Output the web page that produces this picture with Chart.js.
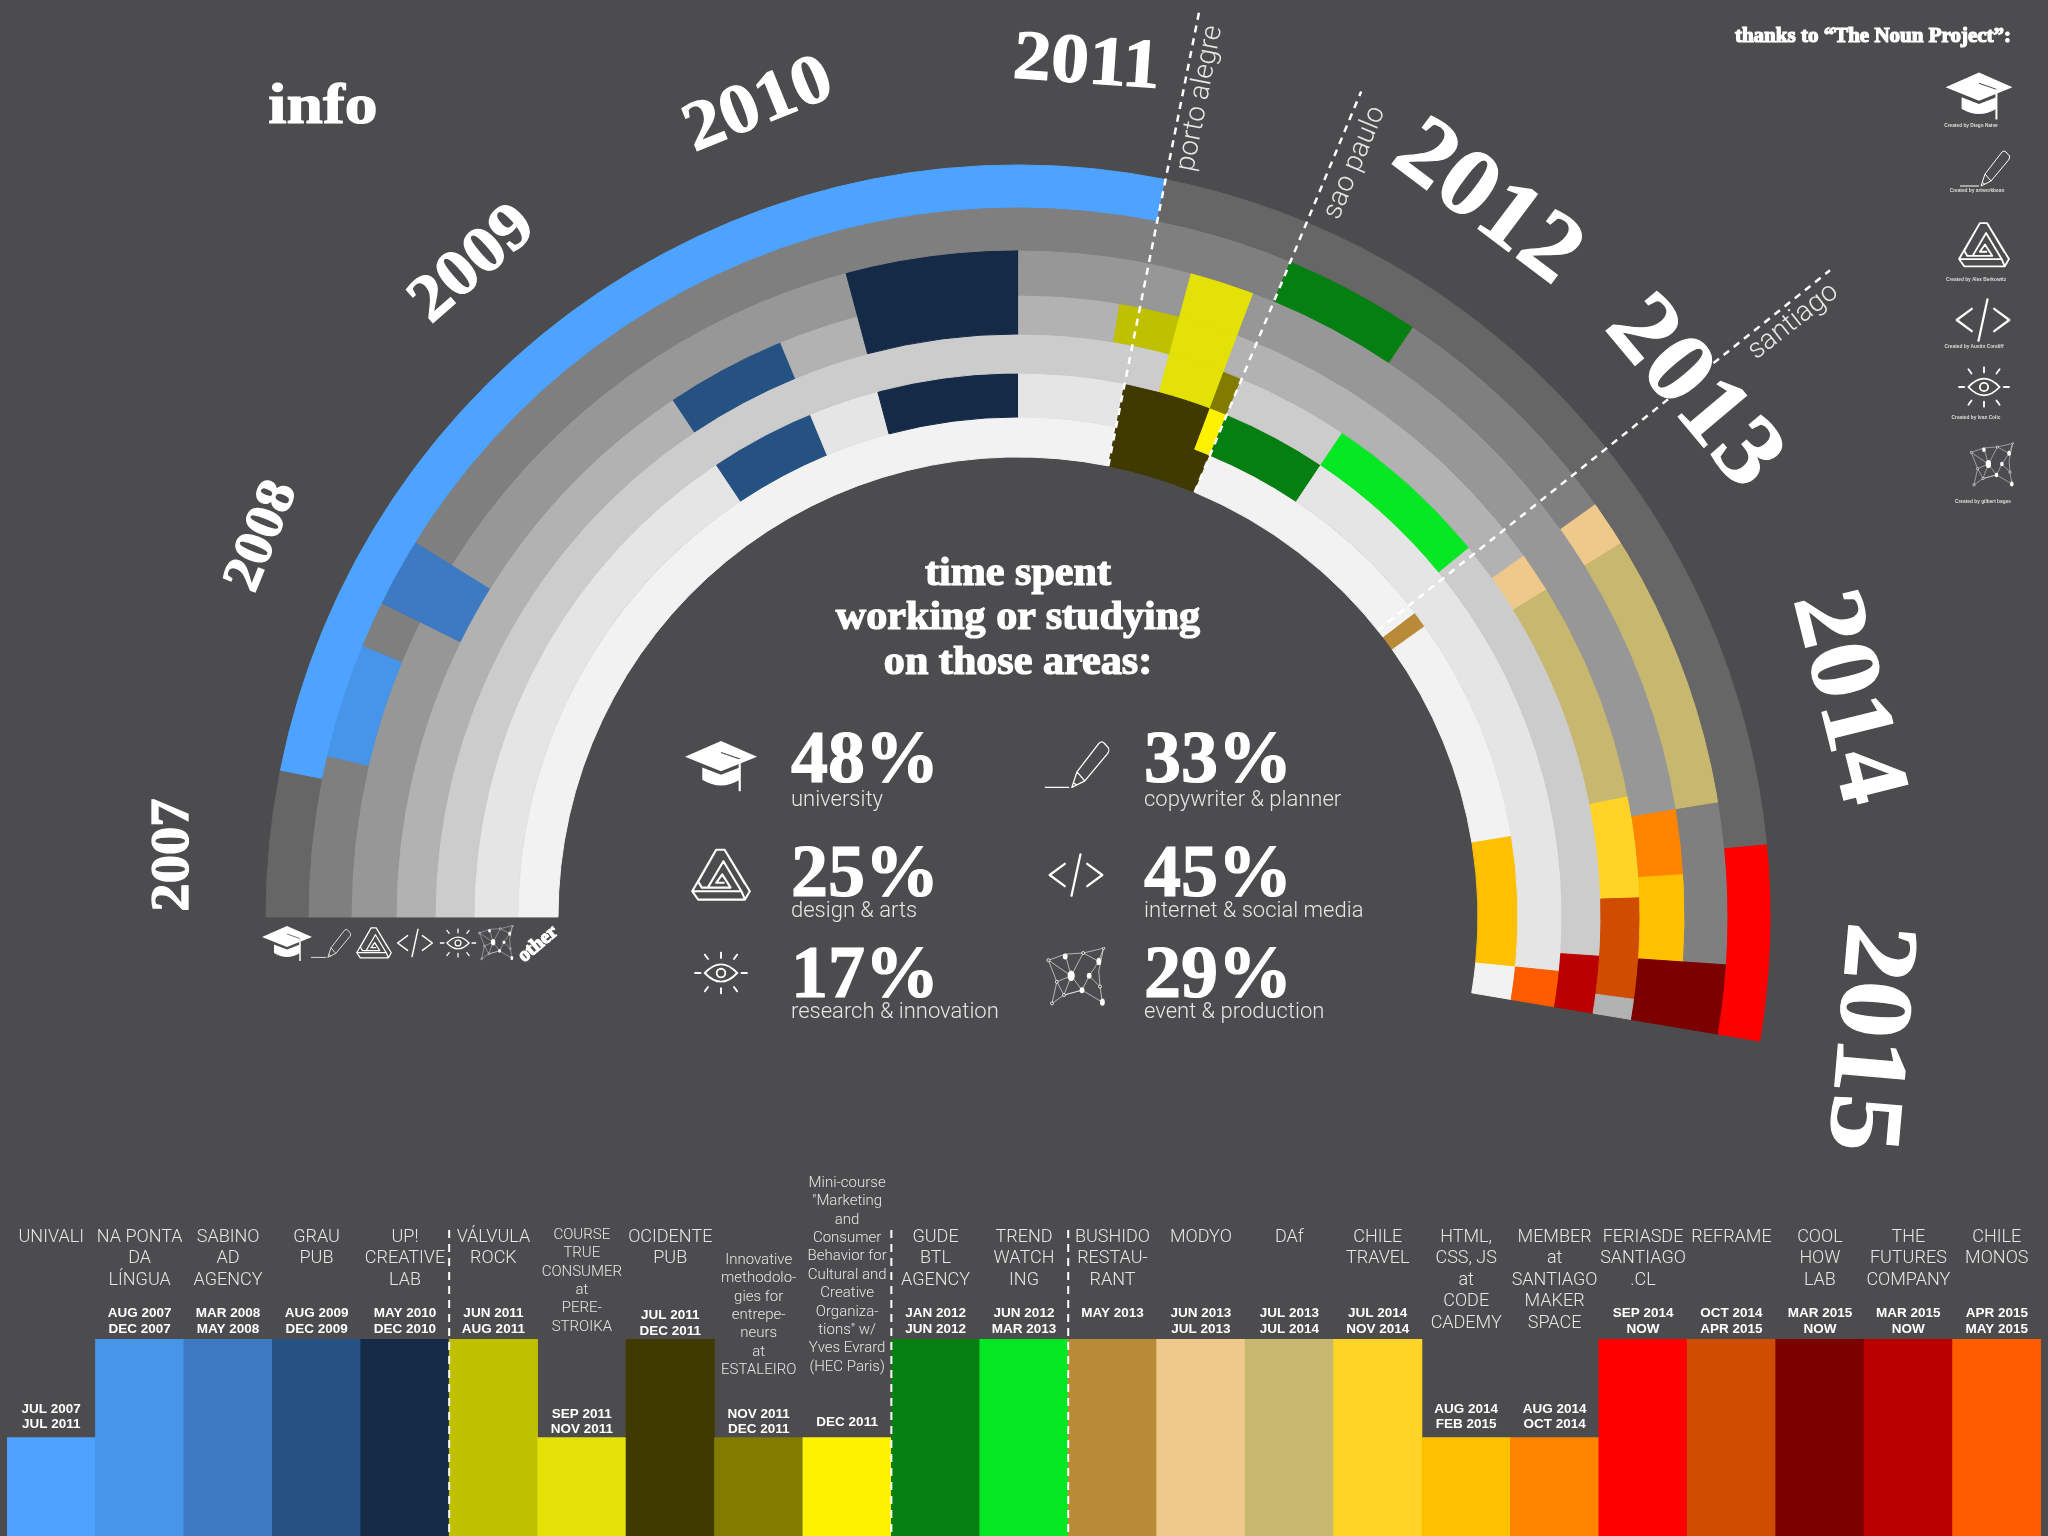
<!DOCTYPE html>
<html lang="en">
<head>
    <meta charset="UTF-8">
    <title>time spent working or studying</title>
    <script src="https://cdn.jsdelivr.net/npm/chart.js"></script>
    <style>
        body { margin: 0; background: #4c4b4d; }
        #page { position: relative; width: 2048px; height: 1536px; overflow: hidden; background: #4c4b4d; }
        canvas, #icons { position: absolute; left: 0; top: 0; }
        .t { position: absolute; white-space: pre; color: #fff; text-align: center; line-height: 1.12; }
        .serif { font-family: "Liberation Serif", serif; font-weight: 700; -webkit-text-stroke: 1.2px #fff; }
        .sans { font-family: Roboto, "Liberation Sans", sans-serif; font-weight: 300; color: #e6e6e6; }
    </style>
</head>
<body>
<div id="page">
    <canvas id="rings" width="2048" height="1536"></canvas>
    <canvas id="bars" width="2048" height="1536"></canvas>
    <svg id="icons" width="2048" height="1536" xmlns="http://www.w3.org/2000/svg">
        <defs>
            <symbol id="cap" viewBox="0 0 100 80">
                <path fill="#fff" d="M0 30 L50 8 L100 30 L50 50Z"/>
                <path fill="#fff" d="M24 45 L50 55 L76 45 V62 Q50 78 24 62Z"/>
                <path fill="none" stroke="#4c4b4d" stroke-width="1.5" d="M50 24 L76 33 V40"/>
                <path fill="none" stroke="#fff" stroke-width="3" d="M76 33 V78"/>
            </symbol>
            <symbol id="pen" viewBox="0 0 100 80">
                <path fill="none" stroke="#fff" stroke-width="2" stroke-linejoin="round" d="M0 76 H38 M42 76 L50 52 L84 8 Q88 4 92 8 L99 16 Q100 20 97 24 L62 66Z M50 52 L62 66 M44 68 L50 73"/>
            </symbol>
            <symbol id="tri" viewBox="0 0 100 90">
                <path fill="none" stroke="#fff" stroke-width="3.5" stroke-linejoin="round" d="M42 3 H56 L98 72 L90 86 H12 L2 72Z M2 72 H84 L54 22 L28 66 M56 3 L90 60 M84 72 L90 86 M42 3 L12 56 M12 56 L18 66 H66 L52 44 L42 58 H56"/>
            </symbol>
            <symbol id="code" viewBox="0 0 100 80">
                <path fill="none" stroke="#fff" stroke-width="4" stroke-linecap="round" stroke-linejoin="round" d="M30 20 L3 40 L30 60 M58 3 L42 77 M70 20 L97 40 L70 60"/>
            </symbol>
            <symbol id="eye" viewBox="0 0 100 80">
                <path fill="none" stroke="#fff" stroke-width="3.5" d="M20 40 Q50 8 80 40 Q50 72 20 40Z"/>
                <circle cx="50" cy="40" r="8" fill="none" stroke="#fff" stroke-width="3.5"/>
                <path fill="none" stroke="#fff" stroke-width="3.5" stroke-linecap="round" d="M50 2 V12 M50 68 V78 M2 40 H12 M88 40 H98 M20 6 L26 14 M80 6 L74 14 M20 74 L26 66 M80 74 L74 66"/>
            </symbol>
            <symbol id="net" viewBox="0 0 100 100">
                <path fill="none" stroke="#fff" stroke-width="1" d="M4 22 L32 12 L62 10 L96 2 L88 40 L90 66 L94 92 L60 72 L30 80 L10 94 L18 58 L4 22 M32 12 L42 48 L62 10 L88 24 L72 48 L90 66 M18 58 L42 48 L30 80 L60 72 L72 48 M4 22 L42 48 L60 72 M18 58 L30 80 M88 24 L96 2"/>
                <g fill="#4c4b4d" stroke="#fff" stroke-width="1.4">
                    <circle cx="4" cy="22" r="2.5"/><circle cx="62" cy="10" r="2.5"/><circle cx="96" cy="2" r="2"/>
                    <circle cx="18" cy="58" r="2.5"/><circle cx="90" cy="66" r="2.5"/><circle cx="30" cy="80" r="2.5"/><circle cx="10" cy="94" r="2.5"/>
                </g>
                <g fill="#fff">
                    <ellipse cx="32" cy="16" rx="4" ry="5"/><ellipse cx="88" cy="24" rx="4" ry="6"/><ellipse cx="42" cy="48" rx="6" ry="9"/>
                    <ellipse cx="72" cy="48" rx="4" ry="5"/><ellipse cx="60" cy="72" rx="4" ry="5"/><ellipse cx="94" cy="92" rx="4" ry="6"/>
                </g>
            </symbol>
        </defs>
    </svg>
</div>
<script>
    // bottom strip: one bar per job / course
    const jobNames = [
        ['UNIVALI'], ['NA PONTA', 'DA', 'LÍNGUA'], ['SABINO', 'AD', 'AGENCY'], ['GRAU', 'PUB'], ['UP!', 'CREATIVE', 'LAB'],
        ['VÁLVULA', 'ROCK'], ['COURSE', 'TRUE', 'CONSUMER', 'at', 'PERE-', 'STROIKA'], ['OCIDENTE', 'PUB'],
        ['Innovative', 'methodolo-', 'gies for', 'entrepe-', 'neurs', 'at', 'ESTALEIRO'],
        ['Mini-course', '"Marketing', 'and', 'Consumer', 'Behavior for', 'Cultural and', 'Creative', 'Organiza-', 'tions" w/', 'Yves Evrard', '(HEC Paris)'],
        ['GUDE', 'BTL', 'AGENCY'], ['TREND', 'WATCH', 'ING'], ['BUSHIDO', 'RESTAU-', 'RANT'], ['MODYO'], ['DAf'], ['CHILE', 'TRAVEL'],
        ['HTML,', 'CSS, JS', 'at', 'CODE', 'CADEMY'], ['MEMBER', 'at', 'SANTIAGO', 'MAKER', 'SPACE'], ['FERIASDE', 'SANTIAGO', '.CL'],
        ['REFRAME'], ['COOL', 'HOW', 'LAB'], ['THE', 'FUTURES', 'COMPANY'], ['CHILE', 'MONOS']
    ];
    const jobDates = [
        ['JUL 2007', 'JUL 2011'], ['AUG 2007', 'DEC 2007'], ['MAR 2008', 'MAY 2008'], ['AUG 2009', 'DEC 2009'], ['MAY 2010', 'DEC 2010'],
        ['JUN 2011', 'AUG 2011'], ['SEP 2011', 'NOV 2011'], ['JUL 2011', 'DEC 2011'], ['NOV 2011', 'DEC 2011'], ['DEC 2011'],
        ['JAN 2012', 'JUN 2012'], ['JUN 2012', 'MAR 2013'], ['MAY 2013', ''], ['JUN 2013', 'JUL 2013'], ['JUL 2013', 'JUL 2014'], ['JUL 2014', 'NOV 2014'],
        ['AUG 2014', 'FEB 2015'], ['AUG 2014', 'OCT 2014'], ['SEP 2014', 'NOW'], ['OCT 2014', 'APR 2015'], ['MAR 2015', 'NOW'], ['MAR 2015', 'NOW'], ['APR 2015', 'MAY 2015']
    ];
    const jobValues = [50, 100, 100, 100, 100, 100, 50, 100, 50, 50, 100, 100, 100, 100, 100, 100, 50, 50, 100, 100, 100, 100, 100];

    const UNIVALI = '#4da3ff', PONTA = '#4695e8', SABINO = '#3e7ac2', GRAU = '#255282', UP = '#142a47';
    const VALVULA = '#bfc000', COURSE = '#e3e106', OCIDENTE = '#403a00', INNOV = '#817c00', MINI = '#fff200';
    const GUDE = '#067f12', TREND = '#04e824', BUSHIDO = '#b98a37', MODYO = '#efc98c', DAF = '#c8b86f', TRAVEL = '#ffd426';
    const HTMLC = '#ffc000', MEMBER = '#ff8500', FERIAS = '#ff0000', REFRAME = '#d04c00', COOL = '#7d0000', FUTURES = '#ba0000', MONOS = '#ff5c00';
    const jobColors = [UNIVALI, PONTA, SABINO, GRAU, UP, VALVULA, COURSE, OCIDENTE, INNOV, MINI, GUDE, TREND, BUSHIDO, MODYO, DAF, TRAVEL, HTMLC, MEMBER, FERIAS, REFRAME, COOL, FUTURES, MONOS];

    // half ring: months per segment from JAN 2007, outermost ring first
    const uniMonths = [6, 48, 39, 8];
    const uniColors = ['#666666', UNIVALI, '#666666', FERIAS];
    const copyMonths = [7, 5, 2, 3, 43, 6, 11, 2, 12, 7, 3];
    const copyColors = ['#7f7f7f', PONTA, '#7f7f7f', SABINO, '#7f7f7f', GUDE, '#7f7f7f', MODYO, DAF, '#7f7f7f', COOL];
    const designMonths = [14, 3, 23, 8, 8, 3, 32, 3, 4, 3];
    const designColors = ['#979797', SABINO, '#979797', UP, '#979797', COURSE, '#979797', MEMBER, HTMLC, COOL];
    const webMonths = [30, 6, 4, 8, 5, 3, 3, 18, 2, 11, 5, 5, 1];
    const webColors = ['#b2b2b2', GRAU, '#b2b2b2', UP, '#b2b2b2', VALVULA, COURSE, '#b2b2b2', MODYO, DAF, TRAVEL, REFRAME, '#b2b2b2'];
    const researchMonths = [56, 3, 1, 6, 9, 23, 3];
    const researchColors = ['#cccccc', COURSE, INNOV, '#cccccc', TREND, '#cccccc', FUTURES];
    const eventMonths = [30, 6, 4, 8, 6, 5, 1, 6, 33, 2];
    const eventColors = ['#e5e5e5', GRAU, '#e5e5e5', UP, '#e5e5e5', OCIDENTE, MINI, GUDE, '#e5e5e5', MONOS];
    const otherMonths = [54, 6, 16, 1, 14, 8, 2];
    const otherColors = ['#f2f2f2', OCIDENTE, '#f2f2f2', BUSHIDO, '#f2f2f2', HTMLC, '#f2f2f2'];

    const ringMonths = [uniMonths, copyMonths, designMonths, webMonths, researchMonths, eventMonths, otherMonths];
    const ringColors = [uniColors, copyColors, designColors, webColors, researchColors, eventColors, otherColors];
    const ringWidths = [42, 43, 45, 39, 39, 44, 40];

    // cities: month the move happened, how far the dashed line runs
    const cityMonths = [54, 60, 75.4];
    const cityReach = [925, 894, 1038];
    const cityBarBreaks = [5, 10, 12];

    const totalMonths = 101;
    const arcDegrees = 189.5;

    const cityLines = {
        id: 'cityLines',
        afterDatasetsDraw(chart) {
            const c = chart.ctx;
            const arc = chart.getDatasetMeta(0).data[0];
            const inner = chart.getDatasetMeta(6).data[0].innerRadius;
            c.save();
            c.strokeStyle = '#fff';
            c.lineWidth = 2.5;
            c.setLineDash([7, 6]);
            cityMonths.forEach((m, i) => {
                const a = Math.PI * (-180 + m * arcDegrees / totalMonths) / 180;
                c.beginPath();
                c.moveTo(arc.x + Math.cos(a) * inner, arc.y + Math.sin(a) * inner);
                c.lineTo(arc.x + Math.cos(a) * cityReach[i], arc.y + Math.sin(a) * cityReach[i]);
                c.stroke();
            });
            c.restore();
        }
    };

    new Chart(document.getElementById('rings'), {
        type: 'doughnut',
        data: {
            labels: ringMonths[1].map((m, i) => 'segment ' + i),
            datasets: ringMonths.map((months, i) => ({
                data: months,
                backgroundColor: ringColors[i],
                borderColor: ringColors[i],
                borderWidth: 1,
                weight: ringWidths[i]
            }))
        },
        options: {
            responsive: false,
            animation: false,
            events: [],
            rotation: -90,
            circumference: arcDegrees,
            radius: 752,
            cutout: '61.17%',
            layout: { padding: { left: 0, right: 12, top: 0, bottom: 330 } },
            plugins: { legend: { display: false }, tooltip: { enabled: false } }
        },
        plugins: [cityLines]
    });

    // small print labels, first line height
    const nameStart = { 6: 1235, 8: 1260, 9: 1183 };
    // date labels that sit a little off the common line
    const dateShift = { 0: -3, 16: -3, 17: -3, 6: 2, 7: 2, 8: 2, 9: -5 };

    const jobLabels = {
        id: 'jobLabels',
        afterDatasetsDraw(chart) {
            const c = chart.ctx;
            const bars = chart.getDatasetMeta(0).data;
            const half = bars[0].width / 2;
            c.save();
            c.textAlign = 'center';
            c.textBaseline = 'middle';
            bars.forEach((bar, i) => {
                const small = nameStart[i] !== undefined;
                c.fillStyle = '#e6e6e6';
                c.font = small ? '300 15px Roboto' : '300 18px Roboto';
                const gap = small ? 18.4 : 21.5;
                jobNames[i].forEach((line, k) => {
                    c.fillText(line, bar.x, (small ? nameStart[i] : 1237) + k * gap);
                });
                c.fillStyle = '#fff';
                c.font = 'bold 13.5px "Liberation Sans"';
                const lines = jobDates[i];
                lines.forEach((line, k) => {
                    c.fillText(line, bar.x, bar.y - 10 + (dateShift[i] || 0) - (lines.length - 1 - k) * 15.5);
                });
            });
            c.strokeStyle = '#fff';
            c.lineWidth = 2;
            c.setLineDash([8, 6]);
            cityBarBreaks.forEach(b => {
                const x = bars[b].x - half;
                c.beginPath();
                c.moveTo(x, 1230);
                c.lineTo(x, 1536);
                c.stroke();
            });
            c.restore();
        }
    };

    new Chart(document.getElementById('bars'), {
        type: 'bar',
        data: {
            labels: jobNames.map(n => n.join(' ')),
            datasets: [{ data: jobValues, backgroundColor: jobColors, borderWidth: 0, barPercentage: 1, categoryPercentage: 1 }]
        },
        options: {
            responsive: false,
            animation: false,
            events: [],
            layout: { padding: { left: 7, right: 7, top: 1339, bottom: 0 } },
            scales: { x: { display: false }, y: { display: false, min: 0, max: 100 } },
            plugins: { legend: { display: false }, tooltip: { enabled: false } }
        },
        plugins: [jobLabels]
    });

    // free text around the chart
    const page = document.getElementById('page');
    function put(text, cx, cy, size, cls, rot, sx) {
        const d = document.createElement('div');
        d.className = 't ' + cls;
        d.textContent = text;
        d.style.fontSize = size + 'px';
        d.style.left = cx + 'px';
        d.style.top = cy + 'px';
        d.style.transform = 'translate(-50%,-50%) rotate(' + (rot || 0) + 'deg) scaleX(' + (sx || 1) + ')';
        page.appendChild(d);
    }
    function left(text, x, cy, size, cls) {
        const d = document.createElement('div');
        d.className = 't ' + cls;
        d.textContent = text;
        d.style.fontSize = size + 'px';
        d.style.left = x + 'px';
        d.style.top = cy + 'px';
        d.style.transform = 'translateY(-50%)';
        page.appendChild(d);
    }

    const yearLabels = ['2007', '2008', '2009', '2010', '2011', '2012', '2013', '2014', '2015'];
    const yearPos = [[170, 855, -90, 54, 1.05], [259, 535, -68, 54, 1.05], [470, 261, -41, 66, 1.08], [757, 102, -22, 70, 1.1], [1087, 60, 4, 70, 1.08], [1491, 198, 37, 96, 1.08], [1698, 389, 50, 100, 1.08], [1852, 696, 76, 100, 1.08], [1874, 1038, 95, 104, 1.1]];
    yearLabels.forEach((y, i) => put(y, yearPos[i][0], yearPos[i][1], yearPos[i][3], 'serif', yearPos[i][2], yearPos[i][4]));

    put('info', 323, 104, 58, 'serif', 0, 1.13);
    put('thanks to “The Noun Project”:', 1873, 35, 20, 'serif', 0, 1.05);
    put('porto alegre', 1198, 98, 28, 'sans', -79);
    put('sao paulo', 1353, 162, 28, 'sans', -67);
    put('santiago', 1792, 320, 28, 'sans', -38);
    put('other', 537, 943, 20, 'serif', -40);

    put('time spent', 1018, 572, 39, 'serif', 0, 1.08);
    put('working or studying', 1018, 616, 39, 'serif', 0, 1.08);
    put('on those areas:', 1018, 661, 39, 'serif', 0, 1.08);

    const areaPct = ['48%', '33%', '25%', '45%', '17%', '29%'];
    const areaNames = ['university', 'copywriter & planner', 'design & arts', 'internet & social media', 'research & innovation', 'event & production'];
    const areaPos = [[791, 757, 799], [1144, 757, 799], [791, 871, 910], [1144, 871, 910], [791, 972, 1011], [1144, 972, 1011]];
    areaPct.forEach((p, i) => {
        left(p, areaPos[i][0], areaPos[i][1], 74, 'serif');
        left(areaNames[i], areaPos[i][0], areaPos[i][2], 22, 'sans');
    });

    const credits = ['Created by Diego Naive', 'Created by artworkbean', 'Created by Alex Berkowitz', 'Created by Austin Condiff', 'Created by Ivan Colic', 'Created by gilbert bages'];
    const creditPos = [[1971, 125], [1977, 190], [1976, 279], [1974, 346], [1976, 417], [1983, 501]];
    credits.forEach((t, i) => {
        const d = document.createElement('div');
        d.className = 't';
        d.textContent = t;
        d.style.cssText += 'font:bold 4.8px "Liberation Sans";color:#ddd;left:' + creditPos[i][0] + 'px;top:' + creditPos[i][1] + 'px;transform:translate(-50%,-50%)';
        page.appendChild(d);
    });

    // icons: name, centre x, centre y, width
    const iconSpots = [
        ['cap', 287, 942, 50], ['pen', 331, 943, 40], ['tri', 374, 943, 36], ['code', 415, 943, 37], ['eye', 458, 943, 37], ['net', 496, 943, 36],
        ['cap', 721, 764, 72], ['pen', 1077, 764, 65], ['tri', 721, 875, 60], ['code', 1076, 875, 56], ['eye', 721, 973, 54], ['net', 1076, 977, 60],
        ['cap', 1979, 94, 67], ['pen', 1985, 168, 50], ['tri', 1984, 245, 52], ['code', 1983, 320, 56], ['eye', 1984, 387, 52], ['net', 1992, 465, 45]
    ];
    const svg = document.getElementById('icons');
    iconSpots.forEach(s => {
        const u = document.createElementNS('http://www.w3.org/2000/svg', 'use');
        u.setAttribute('href', '#' + s[0]);
        const h = s[3] * (s[0] === 'net' ? 1 : s[0] === 'tri' ? 0.9 : 0.8);
        u.setAttribute('x', s[1] - s[3] / 2);
        u.setAttribute('y', s[2] - h / 2);
        u.setAttribute('width', s[3]);
        u.setAttribute('height', h);
        svg.appendChild(u);
    });
</script>
</body>
</html>
